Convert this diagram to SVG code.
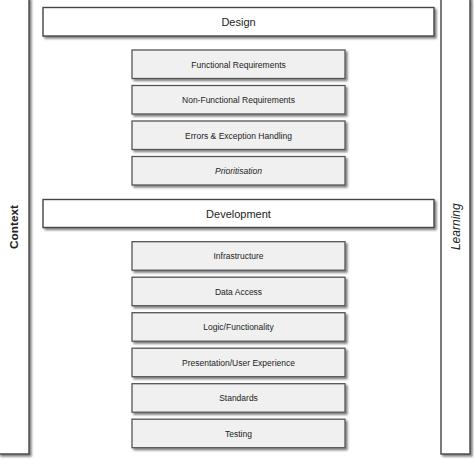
<svg xmlns="http://www.w3.org/2000/svg" width="474" height="459" viewBox="0 0 474 459">
<defs>
<filter id="sh" x="-10%" y="-10%" width="130%" height="150%">
<feGaussianBlur in="SourceAlpha" stdDeviation="1"/>
<feOffset dx="2" dy="2" result="b"/>
<feComponentTransfer><feFuncA type="linear" slope="0.5"/></feComponentTransfer>
<feMerge><feMergeNode/><feMergeNode in="SourceGraphic"/></feMerge>
</filter>
<style>
.side{fill:#ffffff;stroke:#444;stroke-width:1.4}
.head{fill:#ffffff;stroke:#444;stroke-width:1.4}
.item{fill:#f0f0f0;stroke:#555;stroke-width:1.3}
.t{font-family:"Liberation Sans",Arial,sans-serif;fill:#222;text-anchor:middle;dominant-baseline:central}
.hl{font-size:11px}
.il{font-size:8.5px}
</style>
</defs>
<rect width="474" height="459" fill="#ffffff"/>
<g id="context">
<rect class="side" x="-1" y="-2" width="30" height="456" filter="url(#sh)"/>
<text class="t" x="14.3" y="227" font-size="11.8" font-weight="bold" transform="rotate(-90 14.3 227)">Context</text>
</g>
<g id="learning">
<rect class="side" x="441" y="-2" width="29" height="456" filter="url(#sh)"/>
<text class="t" x="456" y="226.7" font-size="12" font-style="italic" transform="rotate(-90 456 226.7)">Learning</text>
</g>
<g id="design">
<rect class="head" x="43" y="7.5" width="391" height="28.5" filter="url(#sh)"/>
<text class="t hl" x="238.5" y="21.5">Design</text>
</g>
<g id="functional-requirements">
<rect class="item" x="132" y="50" width="213" height="28.5" filter="url(#sh)"/>
<text class="t il" x="238.5" y="64.5">Functional Requirements</text>
</g>
<g id="non-functional-requirements">
<rect class="item" x="132" y="85.5" width="213" height="28.5" filter="url(#sh)"/>
<text class="t il" x="238.5" y="100">Non-Functional Requirements</text>
</g>
<g id="errors-exception-handling">
<rect class="item" x="132" y="121" width="213" height="28.5" filter="url(#sh)"/>
<text class="t il" x="238.5" y="135.5">Errors &amp; Exception Handling</text>
</g>
<g id="prioritisation">
<rect class="item" x="132" y="156.5" width="213" height="28.5" filter="url(#sh)"/>
<text class="t il" x="238.5" y="171" font-style="italic">Prioritisation</text>
</g>
<g id="development">
<rect class="head" x="43" y="199.5" width="391" height="28" filter="url(#sh)"/>
<text class="t hl" x="238.5" y="213.5">Development</text>
</g>
<g id="infrastructure">
<rect class="item" x="132" y="241.7" width="213" height="28.5" filter="url(#sh)"/>
<text class="t il" x="238.5" y="256">Infrastructure</text>
</g>
<g id="data-access">
<rect class="item" x="132" y="277.2" width="213" height="28.5" filter="url(#sh)"/>
<text class="t il" x="238.5" y="291.5">Data Access</text>
</g>
<g id="logic-functionality">
<rect class="item" x="132" y="312.7" width="213" height="28.5" filter="url(#sh)"/>
<text class="t il" x="238.5" y="327">Logic/Functionality</text>
</g>
<g id="presentation-user-experience">
<rect class="item" x="132" y="348.2" width="213" height="28.5" filter="url(#sh)"/>
<text class="t il" x="238.5" y="362.5">Presentation/User Experience</text>
</g>
<g id="standards">
<rect class="item" x="132" y="383.7" width="213" height="28.5" filter="url(#sh)"/>
<text class="t il" x="238.5" y="398">Standards</text>
</g>
<g id="testing">
<rect class="item" x="132" y="419.2" width="213" height="28.5" filter="url(#sh)"/>
<text class="t il" x="238.5" y="433.5">Testing</text>
</g>
<g id="connectors"/>
</svg>
